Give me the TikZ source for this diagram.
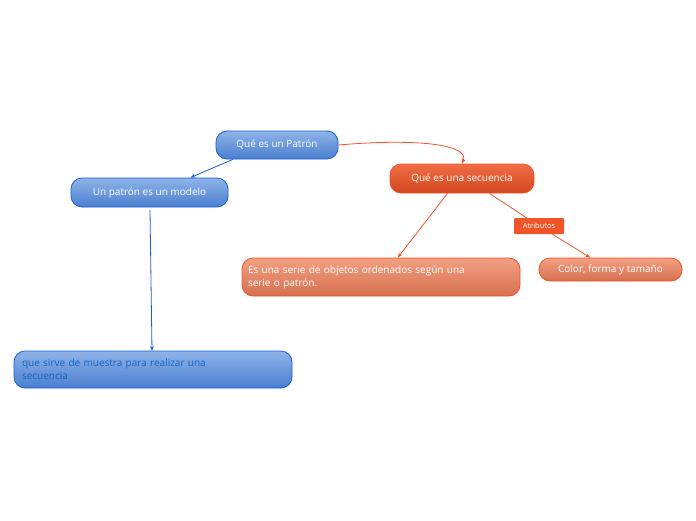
\documentclass[tikz,border=0pt]{standalone}
\usepackage{fontspec}
\setmainfont{Open Sans}
\usetikzlibrary{arrows.meta,calc}
\definecolor{bb}{HTML}{1A5FD6}
\definecolor{oo}{HTML}{F0552A}
\definecolor{btop}{RGB}{143,179,232}
\definecolor{bbot}{RGB}{74,127,208}
\definecolor{rtop}{RGB}{240,110,70}
\definecolor{rbot}{RGB}{210,70,30}
\definecolor{ltop}{RGB}{242,160,130}
\definecolor{lbot}{RGB}{214,112,80}
\definecolor{ctext}{RGB}{20,100,190}
\tikzset{
 box/.style={rounded corners=11pt, line width=0.8pt, inner sep=0pt, font=\fontsize{10}{13}\selectfont, text=white},
 bluebox/.style={box, draw=bb, top color=btop, bottom color=bbot},
 redbox/.style={box, draw=oo, top color=rtop, bottom color=rbot},
 lightred/.style={box, draw=oo, top color=ltop, bottom color=lbot},
 bl/.style={draw=bb, line width=0.8pt, -{Stealth[length=5pt]}},
 rl/.style={draw=oo, line width=0.8pt, -{Stealth[length=5pt]}},
}
\begin{document}
\begin{tikzpicture}[x=1pt,y=-1pt]
\useasboundingbox (0,0) rectangle (696,520);
\node[bluebox, minimum width=122pt, minimum height=28pt] (A) at (277,145) {Qué es un Patrón};
\node[bluebox, minimum width=157pt, minimum height=29pt] (B) at (149.5,192.5) {Un patrón es un modelo};
\node[bluebox, minimum width=278pt, minimum height=37pt, text=ctext, align=left, text width=250pt] (C) at (153,369.5) {\hspace*{-6pt}que sirve de muestra para realizar una\\\hspace*{-6pt}secuencia};
\node[redbox, minimum width=144pt, minimum height=29pt] (D) at (462,178.5) {Qué es una secuencia};
\node[lightred, minimum width=278pt, minimum height=38pt, align=left, text width=250pt] (E) at (381,277) {\hspace*{-8pt}Es una serie de objetos ordenados según una\\\hspace*{-8pt}serie o patrón.};
\node[lightred, minimum width=143pt, minimum height=23pt] (F) at (610.5,269.5) {Color, forma y tamaño};
\node[fill=oo, text=white, font=\fontsize{7.5}{9}\selectfont, minimum width=50pt, minimum height=16pt, inner sep=1pt, rounded corners=1pt] (L) at (539,226) {Atributos};
\draw[bl] ($(A.south west)!0.14!(A.south east)$) -- ($(B.north west)!0.76!(B.north east)$);
\draw[bl] (150,210) -- (152,351);
\draw[rl] (A.east) .. controls (420,138) and (470,145) .. (D.north);
\draw[rl] ($(D.south west)!0.4!(D.south east)$) -- ($(E.north west)!0.56!(E.north east)$);
\draw[oo, line width=0.8pt] ($(D.south west)!0.69!(D.south east)$) -- (L);
\draw[rl] (L) -- ($(F.north west)!0.36!(F.north east)$);
\end{tikzpicture}
\end{document}
